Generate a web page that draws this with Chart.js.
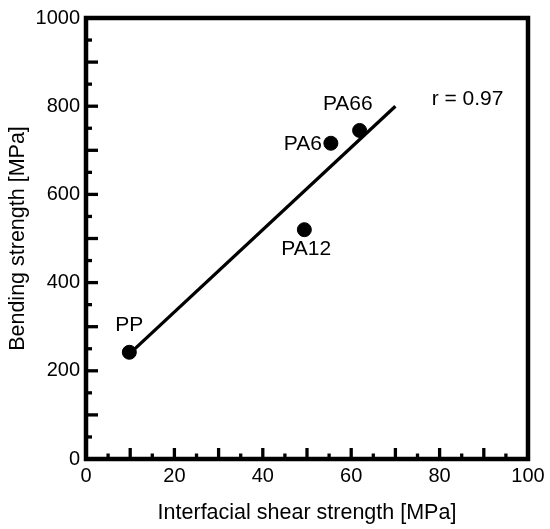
<!DOCTYPE html>
<html>
<head>
<meta charset="utf-8">
<script src="https://cdn.jsdelivr.net/npm/chart.js@4"></script>
<style>
html,body{margin:0;padding:0;background:#fff;}
#wrap{width:550px;height:529px;}
</style>
</head>
<body>
<div id="wrap"><canvas id="c" width="550" height="529"></canvas></div>
<script>
const materials = ['PP', 'PA12', 'PA6', 'PA66'];
const shearStrength = [9.8, 49.4, 55.4, 61.9];
const bendingStrength = [242, 520, 716, 745];
const fitX = [10, 70];
const fitY = [240, 800];
const corrText = 'r = 0.97';
const corrPos = [78.2, 815];
const xTitle = 'Interfacial shear strength [MPa]';
const yTitle = 'Bending strength [MPa]';

const FONT = '"Liberation Sans", Arial, sans-serif';

// label offsets (px) relative to points: [dx, dy, align]
const labelStyle = {
  'PP':   [0, -27.5, 'center'],
  'PA12': [1.8, 19.7, 'center'],
  'PA6':  [-9, 0.5, 'right'],
  'PA66': [-11.8, -26.5, 'center']
};

const pointData = shearStrength.map((x, i) => ({x: x, y: bendingStrength[i]}));
const fitData = fitX.map((x, i) => ({x: x, y: fitY[i]}));

const framePlugin = {
  id: 'frame',
  afterDraw(chart) {
    const ctx = chart.ctx;
    const a = chart.chartArea;
    const xs = chart.scales.x, ys = chart.scales.y;
    ctx.save();
    ctx.strokeStyle = '#000';
    ctx.lineCap = 'butt';
    // inward ticks
    ctx.lineWidth = 3.3;
    xs.ticks.forEach(t => {
      const v = t.value;
      if (v <= xs.min || v >= xs.max) return;
      const px = xs.getPixelForValue(v);
      const len = (v % 10 === 0) ? 11 : 5.5;
      ctx.beginPath();
      ctx.moveTo(px, a.bottom);
      ctx.lineTo(px, a.bottom - len);
      ctx.stroke();
    });
    ys.ticks.forEach(t => {
      const v = t.value;
      if (v <= ys.min || v >= ys.max) return;
      const py = ys.getPixelForValue(v);
      const len = (v % 100 === 0) ? 12 : 6;
      ctx.beginPath();
      ctx.moveTo(a.left, py);
      ctx.lineTo(a.left + len, py);
      ctx.stroke();
    });
    // frame
    ctx.lineWidth = 4.5;
    ctx.strokeRect(a.left, a.top, a.right - a.left, a.bottom - a.top);
    // labels
    ctx.fillStyle = '#000';
    ctx.font = '21px ' + FONT;
    ctx.textBaseline = 'middle';
    materials.forEach((m, i) => {
      const st = labelStyle[m];
      const px = xs.getPixelForValue(shearStrength[i]);
      const py = ys.getPixelForValue(bendingStrength[i]);
      ctx.textAlign = st[2];
      ctx.fillText(m, px + st[0], py + st[1]);
    });
    ctx.textAlign = 'left';
    ctx.fillText(corrText, xs.getPixelForValue(corrPos[0]), ys.getPixelForValue(corrPos[1]));
    ctx.restore();
  }
};

new Chart(document.getElementById('c'), {
  type: 'scatter',
  data: {
    datasets: [
      {
        type: 'line',
        data: fitData,
        borderColor: '#000',
        borderWidth: 3.3,
        pointRadius: 0,
        fill: false,
        tension: 0
      },
      {
        data: pointData,
        backgroundColor: '#000',
        borderColor: '#000',
        pointRadius: 7,
        pointHoverRadius: 7
      }
    ]
  },
  options: {
    responsive: false,
    animation: false,
    devicePixelRatio: 1,
    events: [],
    layout: {padding: {left: 0, top: 18, right: 22, bottom: 0}},
    plugins: {legend: {display: false}, tooltip: {enabled: false}},
    scales: {
      x: {
        type: 'linear',
        min: 0, max: 100,
        grid: {display: false, drawTicks: false},
        border: {display: false},
        ticks: {
          stepSize: 5,
          autoSkip: false,
          maxRotation: 0,
          padding: 5,
          color: '#000',
          font: {family: FONT, size: 20},
          callback: v => (v % 20 === 0 ? String(v) : '')
        },
        title: {
          display: true,
          text: xTitle,
          color: '#000',
          font: {family: FONT, size: 21.5},
          padding: {top: 4, bottom: 3}
        },
        afterFit(s) { s.height = 70; }
      },
      y: {
        type: 'linear',
        min: 0, max: 1000,
        grid: {display: false, drawTicks: false},
        border: {display: false},
        ticks: {
          stepSize: 50,
          autoSkip: false,
          padding: 6,
          color: '#000',
          font: {family: FONT, size: 20},
          callback: v => (v % 200 === 0 ? String(v) : '')
        },
        title: {
          display: true,
          text: yTitle,
          color: '#000',
          font: {family: FONT, size: 21.5},
          padding: {top: 5, bottom: 4}
        },
        afterFit(s) { s.width = 86; }
      }
    }
  },
  plugins: [framePlugin]
});
</script>
</body>
</html>
